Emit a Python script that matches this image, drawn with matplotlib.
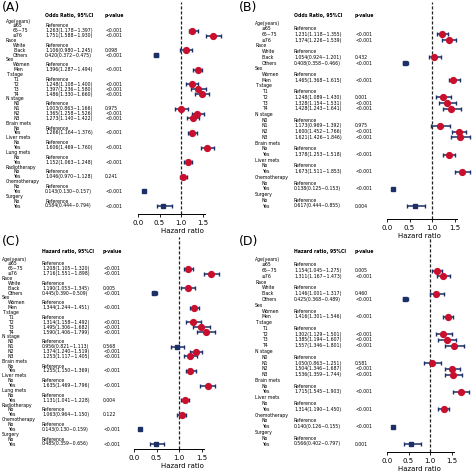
import matplotlib
matplotlib.use("Agg")
import matplotlib.pyplot as plt

W, H = 474, 471

# ---- data: (label, is_group, estimate, low, high, ci_text, p_text) ----
def grp(name):
    return (name, True, None, None, None, "", "")

def ref(name):
    return (name, False, None, None, None, "Reference", "")

def val(name, est, lo, hi, p):
    return (name, False, est, lo, hi, f"{est:.3f}({lo:.3f}~{hi:.3f})", p)

rows_a = [
    grp("Age(years)"), ref("≤65"), val("65~75", 1.263, 1.178, 1.397, "<0.001"), val("≥76", 1.751, 1.588, 1.930, "<0.001"),
    grp("Race"), ref("White"), val("Black", 1.106, 0.980, 1.245, "0.098"), val("Others", 0.420, 0.372, 0.475, "<0.001"),
    grp("Sex"), ref("Women"), val("Men", 1.396, 1.287, 1.494, "<0.001"),
    grp("T stage"), ref("T1"), val("T2", 1.248, 1.108, 1.400, "<0.001"), val("T3", 1.397, 1.236, 1.580, "<0.001"),
    val("T4", 1.486, 1.330, 1.660, "<0.001"),
    grp("N stage"), ref("N0"), val("N1", 1.003, 0.863, 1.166, "0.975"), val("N2", 1.365, 1.258, 1.526, "<0.001"),
    val("N3", 1.273, 1.140, 1.422, "<0.001"),
    grp("Brain mets"), ref("No"), val("Yes", 1.266, 1.164, 1.376, "<0.001"),
    grp("Liver mets"), ref("No"), val("Yes", 1.606, 1.469, 1.760, "<0.001"),
    grp("Lung mets"), ref("No"), val("Yes", 1.152, 1.063, 1.248, "<0.001"),
    grp("Radiotherapy"), ref("No"), val("Yes", 1.046, 0.970, 1.128, "0.241"),
    grp("Chemotherapy"), ref("No"), val("Yes", 0.143, 0.130, 0.157, "<0.001"),
    grp("Surgery"), ref("No"), val("Yes", 0.584, 0.444, 0.794, "<0.001"),
]

rows_b = [
    grp("Age(years)"), ref("≤65"), val("65~75", 1.231, 1.118, 1.355, "<0.001"), val("≥76", 1.374, 1.226, 1.539, "<0.001"),
    grp("Race"), ref("White"), val("Black", 1.054, 0.924, 1.201, "0.432"), val("Others", 0.408, 0.358, 0.466, "<0.001"),
    grp("Sex"), ref("Women"), val("Men", 1.465, 1.368, 1.615, "<0.001"),
    grp("T stage"), ref("T1"), val("T2", 1.248, 1.089, 1.430, "0.001"), val("T3", 1.328, 1.154, 1.531, "<0.001"),
    val("T4", 1.428, 1.243, 1.641, "<0.001"),
    grp("N stage"), ref("N0"), val("N1", 1.173, 0.969, 1.392, "0.975"), val("N2", 1.600, 1.452, 1.766, "<0.001"),
    val("N3", 1.621, 1.426, 1.846, "<0.001"),
    grp("Brain mets"), ref("No"), val("Yes", 1.378, 1.253, 1.518, "<0.001"),
    grp("Liver mets"), ref("No"), val("Yes", 1.673, 1.511, 1.853, "<0.001"),
    grp("Chemotherapy"), ref("No"), val("Yes", 0.138, 0.125, 0.153, "<0.001"),
    grp("Surgery"), ref("No"), val("Yes", 0.617, 0.444, 0.855, "0.004"),
]

rows_c = [
    grp("Age(years)"), ref("≤65"), val("65~75", 1.208, 1.105, 1.320, "<0.001"), val("≥76", 1.716, 1.551, 1.898, "<0.001"),
    grp("Race"), ref("White"), val("Black", 1.190, 1.053, 1.345, "0.005"), val("Others", 0.445, 0.390, 0.509, "<0.001"),
    grp("Sex"), ref("Women"), val("Men", 1.344, 1.244, 1.451, "<0.001"),
    grp("T stage"), ref("T1"), val("T2", 1.314, 1.158, 1.492, "<0.001"), val("T3", 1.495, 1.306, 1.682, "<0.001"),
    val("T4", 1.590, 1.406, 1.799, "<0.001"),
    grp("N stage"), ref("N0"), val("N1", 0.956, 0.821, 1.113, "0.568"), val("N2", 1.374, 1.240, 1.519, "<0.001"),
    val("N3", 1.253, 1.117, 1.405, "<0.001"),
    grp("Brain mets"), ref("No"), val("Yes", 1.255, 1.150, 1.369, "<0.001"),
    grp("Liver mets"), ref("No"), val("Yes", 1.635, 1.469, 1.796, "<0.001"),
    grp("Lung mets"), ref("No"), val("Yes", 1.131, 1.041, 1.228, "0.004"),
    grp("Radiotherapy"), ref("No"), val("Yes", 1.063, 0.964, 1.150, "0.122"),
    grp("Chemotherapy"), ref("No"), val("Yes", 0.143, 0.130, 0.159, "<0.001"),
    grp("Surgery"), ref("No"), val("Yes", 0.485, 0.359, 0.656, "<0.001"),
]

rows_d = [
    grp("Age(years)"), ref("≤65"), val("65~75", 1.154, 1.045, 1.275, "0.005"), val("≥76", 1.311, 1.167, 1.473, "<0.001"),
    grp("Race"), ref("White"), val("Black", 1.146, 1.001, 1.317, "0.460"), val("Others", 0.425, 0.368, 0.489, "<0.001"),
    grp("Sex"), ref("Women"), val("Men", 1.416, 1.301, 1.546, "<0.001"),
    grp("T stage"), ref("T1"), val("T2", 1.302, 1.129, 1.501, "<0.001"), val("T3", 1.385, 1.194, 1.607, "<0.001"),
    val("T4", 1.557, 1.346, 1.801, "<0.001"),
    grp("N stage"), ref("N0"), val("N1", 1.050, 0.863, 1.251, "0.581"), val("N2", 1.504, 1.346, 1.687, "<0.001"),
    val("N3", 1.536, 1.359, 1.744, "<0.001"),
    grp("Brain mets"), ref("No"), val("Yes", 1.715, 1.545, 1.903, "<0.001"),
    grp("Liver mets"), ref("No"), val("Yes", 1.314, 1.190, 1.450, "<0.001"),
    grp("Chemotherapy"), ref("No"), val("Yes", 0.140, 0.126, 0.155, "<0.001"),
    grp("Surgery"), ref("No"), val("Yes", 0.566, 0.402, 0.797, "0.001"),
]

# panel layout in pixels: offset, text columns, first/last row y, axis y, x pixel of 0 and 1
panels = [
    dict(tag="(A)", rows=rows_a, off=(0, 0), head="Odds Ratio, 95%CI", gx=6, sx=13, cx=45, px=105,
         y0=21, y1=206, yax=214, x0=138, x1=181),
    dict(tag="(B)", rows=rows_b, off=(237, 0), head="Odds Ratio, 95%CI", gx=18, sx=25, cx=57, px=118,
         y0=23, y1=206, yax=219, x0=150, x1=195),
    dict(tag="(C)", rows=rows_c, off=(0, 235), head="Hazard ratio, 95%CI", gx=2, sx=8, cx=42, px=103,
         y0=24, y1=209, yax=214, x0=134, x1=179),
    dict(tag="(D)", rows=rows_d, off=(237, 235), head="Hazard ratio, 95%CI", gx=18, sx=25, cx=57, px=118,
         y0=24, y1=209, yax=217, x0=150, x1=193),
]

RED = "#c8102e"
NAVY = "#1c2f66"
FS = 3.3

fig = plt.figure(figsize=(W / 100, H / 100), dpi=100)


def fx(px):
    return px / W


def fy(py):
    return 1 - py / H


for p in panels:
    ox, oy = p["off"]
    rows = p["rows"]
    n = len(rows)
    sp = (p["y1"] - p["y0"]) / (n - 1)
    fig.text(fx(ox + 2), fy(oy + 7), p["tag"], fontsize=9, va="center", ha="left")
    fig.text(fx(ox + p["cx"]), fy(oy + 16), p["head"], fontsize=FS, fontweight="bold", va="center")
    fig.text(fx(ox + p["px"]), fy(oy + 16), "p-value", fontsize=FS, fontweight="bold", va="center")
    for i, r in enumerate(rows):
        y = fy(oy + p["y0"] + i * sp)
        name, is_group, est, lo, hi, ci, pv = r
        fig.text(fx(ox + (p["gx"] if is_group else p["sx"])), y, name, fontsize=FS, va="center")
        if ci:
            fig.text(fx(ox + p["cx"]), y, ci, fontsize=FS, va="center")
        if pv:
            fig.text(fx(ox + p["px"]), y, pv, fontsize=FS, va="center")

    # forest axes: from panel x 128 to 236, from panel top to axis line
    left, right, top = 128, 236, 2
    ax = fig.add_axes([fx(ox + left), fy(oy + p["yax"]), (right - left) / W, (p["yax"] - top) / H])
    scale = p["x1"] - p["x0"]
    ax.set_xlim((left - p["x0"]) / scale, (right - p["x0"]) / scale)
    ax.set_ylim((p["yax"] - p["y0"]) / sp, (top - p["y0"]) / sp)
    ax.patch.set_alpha(0)
    for s in ("top", "right", "left"):
        ax.spines[s].set_visible(False)
    ax.spines["bottom"].set_bounds(0, 1.55)
    ax.spines["bottom"].set_linewidth(0.7)
    ax.set_yticks([])
    ax.set_xticks([0, 0.5, 1.0, 1.5])
    ax.set_xticklabels(["0.0", "0.5", "1.0", "1.5"])
    ax.tick_params(axis="x", labelsize=5, length=2.5, width=0.6, pad=1.5)
    ax.set_xlabel("Hazard ratio", fontsize=5, labelpad=2)
    ax.axvline(1.0, color="#222222", ls=(0, (2.5, 1.5)), lw=0.9)
    for i, r in enumerate(rows):
        est, lo, hi = r[2], r[3], r[4]
        if est is None:
            continue
        ax.errorbar(est, i, xerr=[[est - lo], [hi - est]], fmt="none", ecolor=NAVY,
                    elinewidth=1.1, capsize=1.6, capthick=1.0)
        if est >= 1:
            ax.plot(est, i, "o", color=RED, ms=4.2, zorder=3)
        else:
            ax.plot(est, i, "s", color=NAVY, ms=3.0, zorder=3)

fig.savefig("out.png", dpi=100)
